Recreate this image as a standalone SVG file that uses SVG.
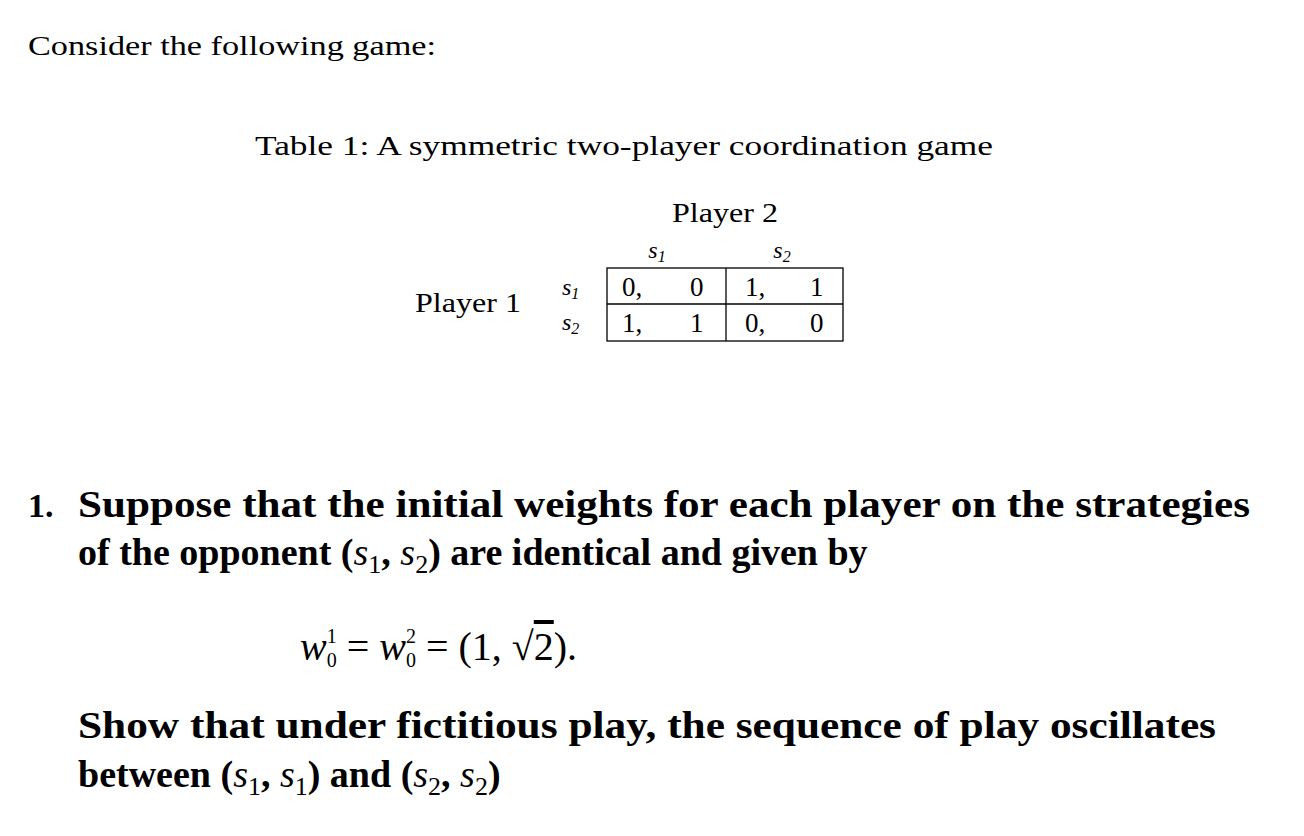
<svg xmlns="http://www.w3.org/2000/svg" width="1304" height="836" viewBox="0 0 1304 836">
<style>
text{font-family:"Liberation Serif","DejaVu Serif",serif;fill:#000}
.r{font-size:27px}
.i{font-style:italic;font-size:24px}
.b{font-size:38px;font-weight:bold}
.m{font-size:40px}
</style>
<rect width="1304" height="836" fill="#fff"/>
<text class="r" x="28" y="55" textLength="408" lengthAdjust="spacingAndGlyphs">Consider the following game:</text>
<text class="r" x="255" y="155" textLength="738" lengthAdjust="spacingAndGlyphs">Table 1: A symmetric two-player coordination game</text>
<text class="r" x="725" y="222" text-anchor="middle" textLength="106" lengthAdjust="spacingAndGlyphs">Player 2</text>
<text class="i" x="657" y="258" text-anchor="middle">s<tspan font-size="16" dy="4">1</tspan></text>
<text class="i" x="782" y="258" text-anchor="middle">s<tspan font-size="16" dy="4">2</tspan></text>
<text class="r" x="415" y="312" textLength="106" lengthAdjust="spacingAndGlyphs">Player 1</text>
<text class="i" x="562" y="295">s<tspan font-size="16" dy="4">1</tspan></text>
<text class="i" x="562" y="330">s<tspan font-size="16" dy="4">2</tspan></text>
<g fill="none" stroke="#000" stroke-width="1.3">
<rect x="607" y="268" width="236" height="73"/>
<line x1="607" y1="304" x2="843" y2="304"/>
<line x1="726" y1="268" x2="726" y2="341"/>
</g>
<g>
<text class="r" x="622" y="296">0,</text><text class="r" x="690" y="296">0</text>
<text class="r" x="745" y="296">1,</text><text class="r" x="810" y="296">1</text>
<text class="r" x="622" y="332">1,</text><text class="r" x="690" y="332">1</text>
<text class="r" x="745" y="332">0,</text><text class="r" x="810" y="332">0</text>
</g>
<text x="28" y="517" font-size="34" font-weight="bold">1.</text>
<text class="b" x="78" y="517" textLength="1172" lengthAdjust="spacingAndGlyphs">Suppose that the initial weights for each player on the strategies</text>
<text class="b" x="78" y="565">of the opponent (<tspan font-weight="normal" font-style="italic">s</tspan><tspan font-weight="normal" font-size="26" dy="8">1</tspan><tspan dy="-8">, </tspan><tspan font-weight="normal" font-style="italic">s</tspan><tspan font-weight="normal" font-size="26" dy="8">2</tspan><tspan dy="-8">) are identical and given by</tspan></text>
<text class="m" x="300" y="660"><tspan font-style="italic">w</tspan><tspan font-size="20" dy="-17">1</tspan><tspan font-size="20" dx="-10" dy="24">0</tspan><tspan dy="-7"> = </tspan><tspan font-style="italic">w</tspan><tspan font-size="20" dy="-17">2</tspan><tspan font-size="20" dx="-10" dy="24">0</tspan><tspan dy="-7"> = (1, √</tspan><tspan text-decoration="overline">2</tspan>).</text>
<text class="b" x="78" y="738" textLength="1138" lengthAdjust="spacingAndGlyphs">Show that under fictitious play, the sequence of play oscillates</text>
<text class="b" x="78" y="787">between (<tspan font-weight="normal" font-style="italic">s</tspan><tspan font-weight="normal" font-size="26" dy="8">1</tspan><tspan dy="-8">, </tspan><tspan font-weight="normal" font-style="italic">s</tspan><tspan font-weight="normal" font-size="26" dy="8">1</tspan><tspan dy="-8">) and (</tspan><tspan font-weight="normal" font-style="italic">s</tspan><tspan font-weight="normal" font-size="26" dy="8">2</tspan><tspan dy="-8">, </tspan><tspan font-weight="normal" font-style="italic">s</tspan><tspan font-weight="normal" font-size="26" dy="8">2</tspan><tspan dy="-8">)</tspan></text>
</svg>
